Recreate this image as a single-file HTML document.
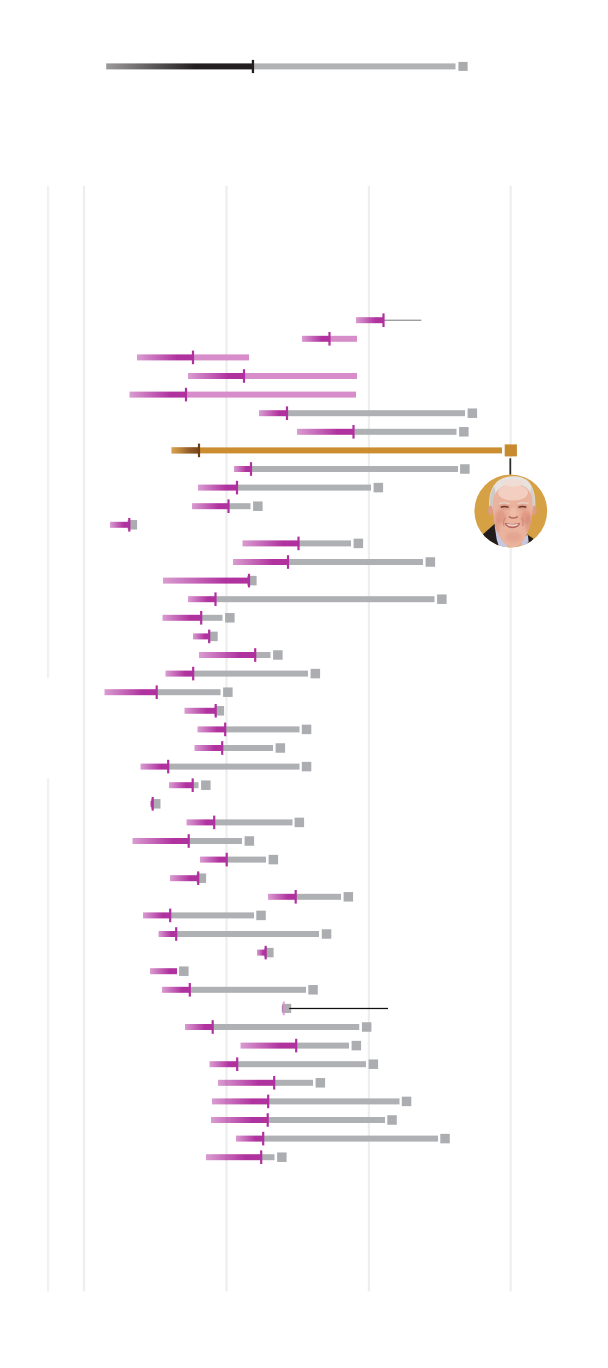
<!DOCTYPE html>
<html><head><meta charset="utf-8"><title>Presidents</title>
<style>
html,body{margin:0;padding:0;background:#fff;font-family:"Liberation Sans",sans-serif;}
#c{position:relative;width:608px;height:1368px;overflow:hidden;background:#fff;}
svg{position:absolute;left:0;top:0;display:block;}
</style></head><body><div id="c">
<svg width="608" height="1368" viewBox="0 0 608 1368">
<defs>
<linearGradient id="gp" x1="0" x2="1" y1="0" y2="0">
<stop offset="0" stop-color="#b0329f" stop-opacity="0.48"/>
<stop offset="0.72" stop-color="#b0329f" stop-opacity="1"/>
<stop offset="1" stop-color="#b0329f" stop-opacity="1"/>
</linearGradient>
<linearGradient id="gc" x1="0" x2="1" y1="0" y2="0">
<stop offset="0" stop-color="#d8a353"/>
<stop offset="0.3" stop-color="#be883d"/>
<stop offset="0.62" stop-color="#965f29"/>
<stop offset="1" stop-color="#77461a"/>
</linearGradient>
<linearGradient id="gl" x1="0" x2="1" y1="0" y2="0">
<stop offset="0" stop-color="#231f20" stop-opacity="0.45"/>
<stop offset="0.6" stop-color="#231f20" stop-opacity="1"/>
<stop offset="1" stop-color="#231f20" stop-opacity="1"/>
</linearGradient>
<clipPath id="fp"><path d="M492.8 505 C492.8 498 495 492.5 499.5 488.5 C503.5 485 508.5 484 513.5 484 C519 484 524 485.2 527.5 488.8 C531 492.5 532.6 498 532.6 505 C532.8 511 532.2 518 530.5 524 C529 529.5 527 534 525 538 C522.5 543 519 547.5 513.5 547.5 C509 547.5 505 544.5 502 540.5 C499 536.5 496.8 532 495.3 527 C493.5 520 492.8 512 492.8 505 Z"/></clipPath>
<clipPath id="cp"><circle cx="510.8" cy="511" r="36.4"/></clipPath>
<filter id="bl" x="-10%" y="-10%" width="120%" height="120%"><feGaussianBlur stdDeviation="0.75"/></filter>
<filter id="bl2" x="-30%" y="-30%" width="160%" height="160%"><feGaussianBlur stdDeviation="1.6"/></filter>
</defs>
<!-- grid -->
<rect x="46.91" y="185.8" width="2.3" height="492.4" fill="#f1f1f1"/>
<rect x="46.91" y="778.4" width="2.3" height="513.0" fill="#f1f1f1"/>
<rect x="82.91" y="185.8" width="2.3" height="1105.6" fill="#eeeeee"/>
<rect x="225.35" y="185.8" width="2.3" height="1105.6" fill="#eeeeee"/>
<rect x="367.75" y="185.8" width="2.3" height="1105.6" fill="#eeeeee"/>
<rect x="509.45" y="185.8" width="2.3" height="1105.6" fill="#eeeeee"/>
<!-- legend -->
<rect x="106.2" y="63.4" width="147" height="6" fill="url(#gl)"/>
<rect x="253" y="63.4" width="202.5" height="6" fill="#b0b2b4"/>
<rect x="251.8" y="59.9" width="2.3" height="13.2" fill="#231f20"/>
<rect x="458.4" y="61.9" width="9.2" height="9" fill="#aaabad"/>
<!-- bars -->
<rect x="383.50" y="319.70" width="37.80" height="1.00" fill="#777"/>
<rect x="356.00" y="317.20" width="27.50" height="6.00" fill="url(#gp)"/>
<rect x="382.40" y="313.40" width="2.20" height="13.60" fill="#b1309f"/>
<rect x="329.50" y="335.80" width="27.50" height="6.00" fill="#d78dca"/>
<rect x="302.00" y="335.80" width="27.50" height="6.00" fill="url(#gp)"/>
<rect x="328.40" y="332.00" width="2.20" height="13.60" fill="#b1309f"/>
<rect x="193.00" y="354.40" width="56.00" height="6.00" fill="#d78dca"/>
<rect x="137.00" y="354.40" width="56.00" height="6.00" fill="url(#gp)"/>
<rect x="191.90" y="350.60" width="2.20" height="13.60" fill="#b1309f"/>
<rect x="244.00" y="373.00" width="113.00" height="6.00" fill="#d78dca"/>
<rect x="188.00" y="373.00" width="56.00" height="6.00" fill="url(#gp)"/>
<rect x="242.90" y="369.20" width="2.20" height="13.60" fill="#b1309f"/>
<rect x="186.00" y="391.60" width="170.00" height="6.00" fill="#d78dca"/>
<rect x="129.50" y="391.60" width="56.50" height="6.00" fill="url(#gp)"/>
<rect x="184.90" y="387.80" width="2.20" height="13.60" fill="#b1309f"/>
<rect x="287.00" y="410.20" width="178.00" height="6.00" fill="#aeb0b3"/>
<rect x="467.60" y="408.45" width="9.50" height="9.50" fill="#abadb0"/>
<rect x="259.00" y="410.20" width="28.00" height="6.00" fill="url(#gp)"/>
<rect x="285.90" y="406.40" width="2.20" height="13.60" fill="#b1309f"/>
<rect x="353.50" y="428.80" width="103.00" height="6.00" fill="#aeb0b3"/>
<rect x="459.10" y="427.05" width="9.50" height="9.50" fill="#abadb0"/>
<rect x="297.00" y="428.80" width="56.50" height="6.00" fill="url(#gp)"/>
<rect x="352.40" y="425.00" width="2.20" height="13.60" fill="#b1309f"/>
<rect x="199.00" y="447.40" width="303.00" height="6.00" fill="#cb8d30"/>
<rect x="171.40" y="447.20" width="27.60" height="6.40" fill="url(#gc)"/>
<rect x="197.90" y="443.60" width="2.20" height="13.60" fill="#6f4012"/>
<rect x="504.70" y="444.40" width="12.20" height="12.00" fill="#c88a2e"/>
<rect x="251.00" y="466.00" width="207.00" height="6.00" fill="#aeb0b3"/>
<rect x="460.10" y="464.25" width="9.50" height="9.50" fill="#abadb0"/>
<rect x="234.00" y="466.00" width="17.00" height="6.00" fill="url(#gp)"/>
<rect x="249.90" y="462.20" width="2.20" height="13.60" fill="#b1309f"/>
<rect x="237.00" y="484.60" width="134.00" height="6.00" fill="#aeb0b3"/>
<rect x="373.60" y="482.85" width="9.50" height="9.50" fill="#abadb0"/>
<rect x="198.00" y="484.60" width="39.00" height="6.00" fill="url(#gp)"/>
<rect x="235.90" y="480.80" width="2.20" height="13.60" fill="#b1309f"/>
<rect x="228.50" y="503.20" width="22.00" height="6.00" fill="#aeb0b3"/>
<rect x="253.10" y="501.45" width="9.50" height="9.50" fill="#abadb0"/>
<rect x="192.00" y="503.20" width="36.50" height="6.00" fill="url(#gp)"/>
<rect x="227.40" y="499.40" width="2.20" height="13.60" fill="#b1309f"/>
<rect x="127.60" y="520.05" width="9.50" height="9.50" fill="#abadb0"/>
<rect x="110.00" y="521.80" width="19.30" height="6.00" fill="url(#gp)"/>
<rect x="128.20" y="518.00" width="2.20" height="13.60" fill="#b1309f"/>
<rect x="298.50" y="540.40" width="52.50" height="6.00" fill="#aeb0b3"/>
<rect x="353.60" y="538.65" width="9.50" height="9.50" fill="#abadb0"/>
<rect x="242.50" y="540.40" width="56.00" height="6.00" fill="url(#gp)"/>
<rect x="297.40" y="536.60" width="2.20" height="13.60" fill="#b1309f"/>
<rect x="288.00" y="559.00" width="135.00" height="6.00" fill="#aeb0b3"/>
<rect x="425.60" y="557.25" width="9.50" height="9.50" fill="#abadb0"/>
<rect x="233.00" y="559.00" width="55.00" height="6.00" fill="url(#gp)"/>
<rect x="286.90" y="555.20" width="2.20" height="13.60" fill="#b1309f"/>
<rect x="247.10" y="575.85" width="9.50" height="9.50" fill="#abadb0"/>
<rect x="163.00" y="577.60" width="86.00" height="6.00" fill="url(#gp)"/>
<rect x="247.90" y="573.80" width="2.20" height="13.60" fill="#b1309f"/>
<rect x="215.50" y="596.20" width="219.00" height="6.00" fill="#aeb0b3"/>
<rect x="437.10" y="594.45" width="9.50" height="9.50" fill="#abadb0"/>
<rect x="188.00" y="596.20" width="27.50" height="6.00" fill="url(#gp)"/>
<rect x="214.40" y="592.40" width="2.20" height="13.60" fill="#b1309f"/>
<rect x="201.20" y="614.80" width="21.30" height="6.00" fill="#aeb0b3"/>
<rect x="225.10" y="613.05" width="9.50" height="9.50" fill="#abadb0"/>
<rect x="162.50" y="614.80" width="38.70" height="6.00" fill="url(#gp)"/>
<rect x="200.10" y="611.00" width="2.20" height="13.60" fill="#b1309f"/>
<rect x="208.20" y="631.65" width="9.50" height="9.50" fill="#abadb0"/>
<rect x="193.00" y="633.40" width="16.20" height="6.00" fill="url(#gp)"/>
<rect x="208.10" y="629.60" width="2.20" height="13.60" fill="#b1309f"/>
<rect x="255.20" y="652.00" width="15.30" height="6.00" fill="#aeb0b3"/>
<rect x="273.10" y="650.25" width="9.50" height="9.50" fill="#abadb0"/>
<rect x="199.00" y="652.00" width="56.20" height="6.00" fill="url(#gp)"/>
<rect x="254.10" y="648.20" width="2.20" height="13.60" fill="#b1309f"/>
<rect x="193.20" y="670.60" width="114.80" height="6.00" fill="#aeb0b3"/>
<rect x="310.60" y="668.85" width="9.50" height="9.50" fill="#abadb0"/>
<rect x="165.50" y="670.60" width="27.70" height="6.00" fill="url(#gp)"/>
<rect x="192.10" y="666.80" width="2.20" height="13.60" fill="#b1309f"/>
<rect x="156.70" y="689.20" width="63.80" height="6.00" fill="#aeb0b3"/>
<rect x="223.10" y="687.45" width="9.50" height="9.50" fill="#abadb0"/>
<rect x="104.50" y="689.20" width="52.20" height="6.00" fill="url(#gp)"/>
<rect x="155.60" y="685.40" width="2.20" height="13.60" fill="#b1309f"/>
<rect x="214.60" y="706.05" width="9.50" height="9.50" fill="#abadb0"/>
<rect x="184.50" y="707.80" width="31.20" height="6.00" fill="url(#gp)"/>
<rect x="214.60" y="704.00" width="2.20" height="13.60" fill="#b1309f"/>
<rect x="225.20" y="726.40" width="74.30" height="6.00" fill="#aeb0b3"/>
<rect x="301.80" y="724.65" width="9.50" height="9.50" fill="#abadb0"/>
<rect x="197.50" y="726.40" width="27.70" height="6.00" fill="url(#gp)"/>
<rect x="224.10" y="722.60" width="2.20" height="13.60" fill="#b1309f"/>
<rect x="222.20" y="745.00" width="50.80" height="6.00" fill="#aeb0b3"/>
<rect x="275.60" y="743.25" width="9.50" height="9.50" fill="#abadb0"/>
<rect x="194.50" y="745.00" width="27.70" height="6.00" fill="url(#gp)"/>
<rect x="221.10" y="741.20" width="2.20" height="13.60" fill="#b1309f"/>
<rect x="168.20" y="763.60" width="131.30" height="6.00" fill="#aeb0b3"/>
<rect x="301.80" y="761.85" width="9.50" height="9.50" fill="#abadb0"/>
<rect x="140.50" y="763.60" width="27.70" height="6.00" fill="url(#gp)"/>
<rect x="167.10" y="759.80" width="2.20" height="13.60" fill="#b1309f"/>
<rect x="192.70" y="782.20" width="5.80" height="6.00" fill="#aeb0b3"/>
<rect x="201.10" y="780.45" width="9.50" height="9.50" fill="#abadb0"/>
<rect x="169.00" y="782.20" width="23.70" height="6.00" fill="url(#gp)"/>
<rect x="191.60" y="778.40" width="2.20" height="13.60" fill="#b1309f"/>
<rect x="151.00" y="799.05" width="9.50" height="9.50" fill="#abadb0"/>
<rect x="150.20" y="800.80" width="2.50" height="6.00" fill="url(#gp)"/>
<rect x="151.60" y="797.00" width="2.20" height="13.60" fill="#b1309f"/>
<rect x="214.20" y="819.40" width="78.30" height="6.00" fill="#aeb0b3"/>
<rect x="294.60" y="817.65" width="9.50" height="9.50" fill="#abadb0"/>
<rect x="186.50" y="819.40" width="27.70" height="6.00" fill="url(#gp)"/>
<rect x="213.10" y="815.60" width="2.20" height="13.60" fill="#b1309f"/>
<rect x="188.70" y="838.00" width="53.30" height="6.00" fill="#aeb0b3"/>
<rect x="244.60" y="836.25" width="9.50" height="9.50" fill="#abadb0"/>
<rect x="132.50" y="838.00" width="56.20" height="6.00" fill="url(#gp)"/>
<rect x="187.60" y="834.20" width="2.20" height="13.60" fill="#b1309f"/>
<rect x="226.70" y="856.60" width="39.30" height="6.00" fill="#aeb0b3"/>
<rect x="268.60" y="854.85" width="9.50" height="9.50" fill="#abadb0"/>
<rect x="200.00" y="856.60" width="26.70" height="6.00" fill="url(#gp)"/>
<rect x="225.60" y="852.80" width="2.20" height="13.60" fill="#b1309f"/>
<rect x="196.60" y="873.45" width="9.50" height="9.50" fill="#abadb0"/>
<rect x="170.00" y="875.20" width="28.20" height="6.00" fill="url(#gp)"/>
<rect x="197.10" y="871.40" width="2.20" height="13.60" fill="#b1309f"/>
<rect x="295.70" y="893.80" width="45.30" height="6.00" fill="#aeb0b3"/>
<rect x="343.60" y="892.05" width="9.50" height="9.50" fill="#abadb0"/>
<rect x="268.00" y="893.80" width="27.70" height="6.00" fill="url(#gp)"/>
<rect x="294.60" y="890.00" width="2.20" height="13.60" fill="#b1309f"/>
<rect x="170.20" y="912.40" width="83.80" height="6.00" fill="#aeb0b3"/>
<rect x="256.30" y="910.65" width="9.50" height="9.50" fill="#abadb0"/>
<rect x="143.00" y="912.40" width="27.20" height="6.00" fill="url(#gp)"/>
<rect x="169.10" y="908.60" width="2.20" height="13.60" fill="#b1309f"/>
<rect x="176.20" y="931.00" width="142.80" height="6.00" fill="#aeb0b3"/>
<rect x="321.80" y="929.25" width="9.50" height="9.50" fill="#abadb0"/>
<rect x="158.50" y="931.00" width="17.70" height="6.00" fill="url(#gp)"/>
<rect x="175.10" y="927.20" width="2.20" height="13.60" fill="#b1309f"/>
<rect x="264.10" y="947.85" width="9.50" height="9.50" fill="#abadb0"/>
<rect x="257.00" y="949.60" width="8.70" height="6.00" fill="url(#gp)"/>
<rect x="264.60" y="945.80" width="2.20" height="13.60" fill="#b1309f"/>
<rect x="150.00" y="968.20" width="27.00" height="6.00" fill="url(#gp)"/>
<rect x="179.10" y="966.45" width="9.50" height="9.50" fill="#abadb0"/>
<rect x="189.80" y="986.80" width="116.20" height="6.00" fill="#aeb0b3"/>
<rect x="308.30" y="985.05" width="9.50" height="9.50" fill="#abadb0"/>
<rect x="162.00" y="986.80" width="27.80" height="6.00" fill="url(#gp)"/>
<rect x="188.70" y="983.00" width="2.20" height="13.60" fill="#b1309f"/>
<rect x="282.00" y="1003.85" width="9.20" height="9.10" fill="#abadb0"/>
<rect x="281.60" y="1005.40" width="2.20" height="6.00" fill="#b0329f" opacity="0.35"/>
<rect x="282.70" y="1001.60" width="2.20" height="13.60" fill="#d890cf" opacity="0.75"/>
<rect x="289.20" y="1007.85" width="98.80" height="1.25" fill="#111"/>
<rect x="212.70" y="1024.00" width="146.50" height="6.00" fill="#aeb0b3"/>
<rect x="361.90" y="1022.25" width="9.50" height="9.50" fill="#abadb0"/>
<rect x="185.00" y="1024.00" width="27.70" height="6.00" fill="url(#gp)"/>
<rect x="211.60" y="1020.20" width="2.20" height="13.60" fill="#b1309f"/>
<rect x="296.20" y="1042.60" width="52.80" height="6.00" fill="#aeb0b3"/>
<rect x="351.60" y="1040.85" width="9.50" height="9.50" fill="#abadb0"/>
<rect x="240.50" y="1042.60" width="55.70" height="6.00" fill="url(#gp)"/>
<rect x="295.10" y="1038.80" width="2.20" height="13.60" fill="#b1309f"/>
<rect x="237.20" y="1061.20" width="128.80" height="6.00" fill="#aeb0b3"/>
<rect x="368.60" y="1059.45" width="9.50" height="9.50" fill="#abadb0"/>
<rect x="209.50" y="1061.20" width="27.70" height="6.00" fill="url(#gp)"/>
<rect x="236.10" y="1057.40" width="2.20" height="13.60" fill="#b1309f"/>
<rect x="274.20" y="1079.80" width="38.80" height="6.00" fill="#aeb0b3"/>
<rect x="315.60" y="1078.05" width="9.50" height="9.50" fill="#abadb0"/>
<rect x="218.00" y="1079.80" width="56.20" height="6.00" fill="url(#gp)"/>
<rect x="273.10" y="1076.00" width="2.20" height="13.60" fill="#b1309f"/>
<rect x="268.20" y="1098.40" width="131.30" height="6.00" fill="#aeb0b3"/>
<rect x="401.80" y="1096.65" width="9.50" height="9.50" fill="#abadb0"/>
<rect x="212.00" y="1098.40" width="56.20" height="6.00" fill="url(#gp)"/>
<rect x="267.10" y="1094.60" width="2.20" height="13.60" fill="#b1309f"/>
<rect x="267.70" y="1117.00" width="117.30" height="6.00" fill="#aeb0b3"/>
<rect x="387.30" y="1115.25" width="9.50" height="9.50" fill="#abadb0"/>
<rect x="211.00" y="1117.00" width="56.70" height="6.00" fill="url(#gp)"/>
<rect x="266.60" y="1113.20" width="2.20" height="13.60" fill="#b1309f"/>
<rect x="263.20" y="1135.60" width="174.80" height="6.00" fill="#aeb0b3"/>
<rect x="440.30" y="1133.85" width="9.50" height="9.50" fill="#abadb0"/>
<rect x="236.00" y="1135.60" width="27.20" height="6.00" fill="url(#gp)"/>
<rect x="262.10" y="1131.80" width="2.20" height="13.60" fill="#b1309f"/>
<rect x="261.20" y="1154.20" width="13.30" height="6.00" fill="#aeb0b3"/>
<rect x="277.10" y="1152.45" width="9.50" height="9.50" fill="#abadb0"/>
<rect x="206.00" y="1154.20" width="55.20" height="6.00" fill="url(#gp)"/>
<rect x="260.10" y="1150.40" width="2.20" height="13.60" fill="#b1309f"/>
<!-- carter photo -->
<rect x="509.45" y="458.3" width="1.7" height="16.5" fill="#2b2b2b"/>
<g clip-path="url(#cp)">
<circle cx="510.8" cy="511" r="37" fill="#d6a044"/>
<g filter="url(#bl)" id="face">

<!-- jacket -->
<path d="M494.8 523.8 L481 536 L488 546 L501 551 L498 537 Z" fill="#231e1c"/>
<path d="M527 534.3 L533.5 538.8 L527 547 L524 542 Z" fill="#231e1c"/>
<!-- shirt -->
<path d="M494.6 525.2 L499 531 L506 541 L509 550 L500 550 L496.6 539 Z" fill="#c5c8e3"/>
<path d="M523.5 538 L527.8 534.6 L528.6 541.5 L524.5 547 L520 547 Z" fill="#c5c8e3"/>
<!-- hair -->
<path d="M489.3 507 C488.4 496 491.5 486.5 497.5 481.3 C502.5 477.2 508.5 476.2 514 476.2 C521 476.2 527 478.8 530.3 483.8 C534.2 489.8 535.6 498 535.3 508 L531 511 L493.5 511 Z" fill="#e7e2df"/>
<path d="M490 506 C489.3 498 491 491 494.5 486.5 L496 497 L494 508 Z" fill="#cfc9c6"/>
<path d="M535 506 C535 498 533.8 491.5 531 486.5 L530 497 L531.5 508 Z" fill="#d5cfcc"/>
<!-- ears -->
<ellipse cx="490.6" cy="510.5" rx="2.4" ry="4.8" fill="#dd9c88"/>
<ellipse cx="534.4" cy="510.5" rx="2.2" ry="4.8" fill="#dd9c88"/>
<!-- face -->
<path d="M492.8 505 C492.8 498 495 492.5 499.5 488.5 C503.5 485 508.5 484 513.5 484 C519 484 524 485.2 527.5 488.8 C531 492.5 532.6 498 532.6 505 C532.8 511 532.2 518 530.5 524 C529 529.5 527 534 525 538 C522.5 543 519 547.5 513.5 547.5 C509 547.5 505 544.5 502 540.5 C499 536.5 496.8 532 495.3 527 C493.5 520 492.8 512 492.8 505 Z" fill="#e9b39d"/>
<!-- forehead -->
<ellipse cx="513" cy="492.5" rx="15" ry="8" fill="#f2cfc0"/>
<ellipse cx="513" cy="483" rx="11" ry="3.6" fill="#efdcd5"/>
<!-- cheeks -->
<g clip-path="url(#fp)"><g filter="url(#bl2)">
<ellipse cx="500.5" cy="517" rx="5.5" ry="7" fill="#dd8e7c" opacity="0.7"/>
<ellipse cx="526" cy="517" rx="5" ry="7" fill="#dd8e7c" opacity="0.7"/>
<ellipse cx="513.5" cy="537" rx="8" ry="5" fill="#e39c88" opacity="0.6"/>
<ellipse cx="504.7" cy="506.8" rx="5" ry="2.4" fill="#c9836f" opacity="0.6"/>
<ellipse cx="522.3" cy="506.8" rx="5" ry="2.4" fill="#c9836f" opacity="0.6"/>
<ellipse cx="529" cy="524" rx="4" ry="9" fill="#cf8370" opacity="0.45"/>
<ellipse cx="497" cy="526" rx="3" ry="7" fill="#cf8370" opacity="0.4"/>
</g></g>
<!-- brows -->
<path d="M499 503.8 Q504.5 501.6 510 504" stroke="#e6cfc4" stroke-width="1.4" fill="none"/>
<path d="M517.5 504 Q523 501.6 528.5 503.8" stroke="#e6cfc4" stroke-width="1.4" fill="none"/>
<!-- eyes -->
<path d="M500.8 507.2 Q504.7 505.6 508.6 507.4" stroke="#70372f" stroke-width="1.5" fill="none"/>
<path d="M518.4 507.4 Q522.3 505.6 526.2 507.2" stroke="#70372f" stroke-width="1.5" fill="none"/>
<!-- nose -->
<ellipse cx="513.3" cy="512.5" rx="3.3" ry="5" fill="#efbba6"/>
<path d="M508.8 516.6 Q513.3 519.6 517.8 516.6" stroke="#b86c5a" stroke-width="1.5" fill="none"/>
<!-- smile lines -->
<path d="M505 517.5 Q502.8 521.5 504 526" stroke="#cf8874" stroke-width="1.1" fill="none"/>
<path d="M521.6 517.5 Q523.8 521.5 522.6 526" stroke="#cf8874" stroke-width="1.1" fill="none"/>
<!-- mouth -->
<path d="M504.6 522.8 Q512.5 525 520.4 522.8 Q519 528 512.5 528.2 Q506 528 504.6 522.8 Z" fill="#b9655f"/>
<path d="M506.5 523.7 Q512.5 525.2 518.5 523.7 Q517.5 526.3 512.5 526.4 Q507.5 526.3 506.5 523.7 Z" fill="#ecd6cb"/>

</g>
</g>
</svg>
</div></body></html>
